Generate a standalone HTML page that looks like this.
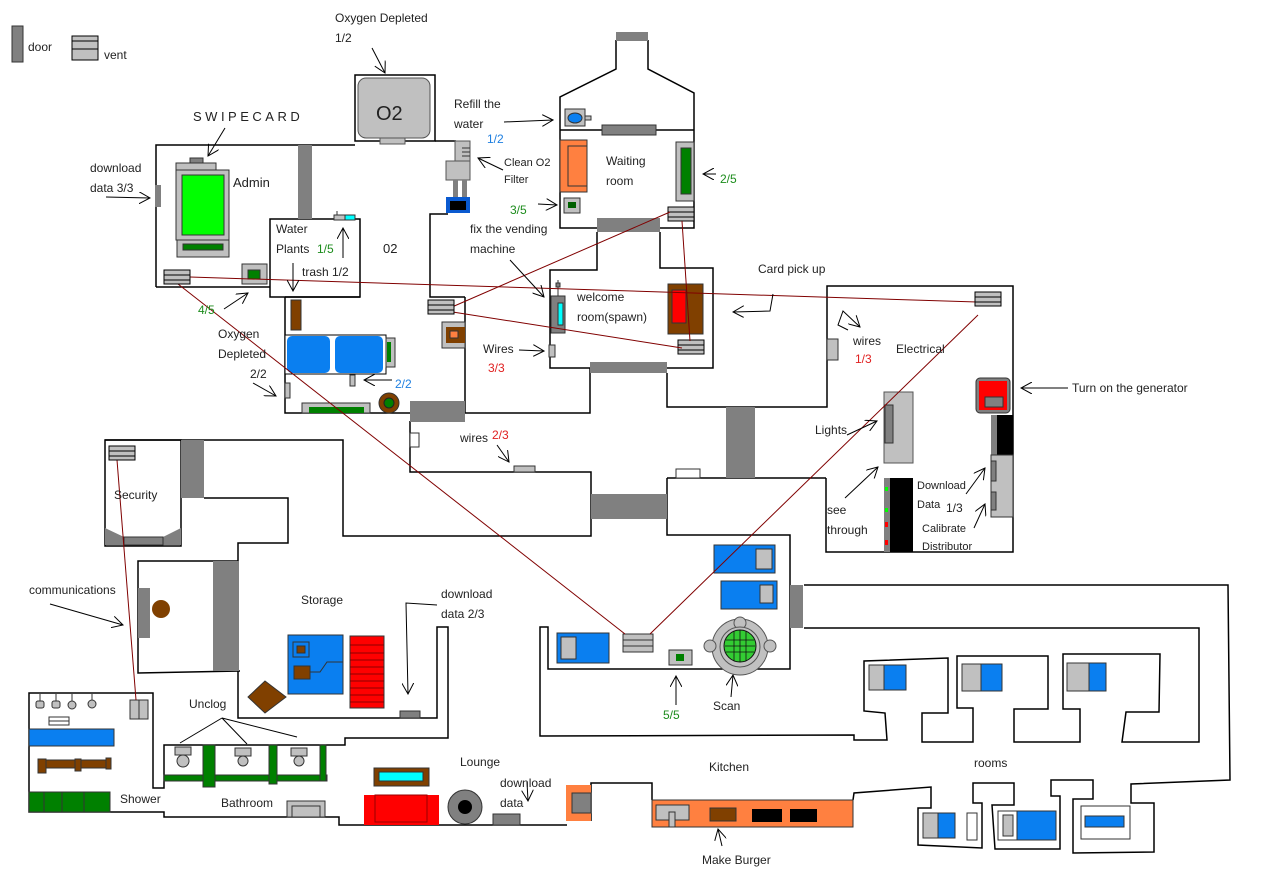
<!DOCTYPE html>
<html><head><meta charset="utf-8"><style>
html,body{margin:0;padding:0;background:#fff;}
svg{display:block;}
text{font-family:"Liberation Sans",sans-serif;font-size:12px;fill:#222;}
.g{fill:#1c8c1c}.r{fill:#e02020}.b{fill:#1e7fe0}
</style></head><body>
<svg width="1280" height="874" viewBox="0 0 1280 874" xmlns="http://www.w3.org/2000/svg">
<defs>
<marker id="a" markerWidth="12" markerHeight="12" refX="11" refY="6" orient="auto" markerUnits="userSpaceOnUse">
<path d="M0,0 L11,6 L0,12" fill="none" stroke="#000" stroke-width="1"/></marker>
<g id="vent"><rect x="0" y="0" width="26" height="14" fill="#c0c0c0" stroke="#000"/><line x1="0" y1="5" x2="26" y2="5" stroke="#000"/><line x1="0" y1="10" x2="26" y2="10" stroke="#000"/></g>
</defs>
<rect width="1280" height="874" fill="#fff"/>

<!-- legend -->
<rect x="12" y="26" width="11" height="36" fill="#808080" stroke="#333"/>
<text x="28" y="51">door</text>
<rect x="72" y="36" width="26" height="24" fill="#c0c0c0" stroke="#000"/>
<line x1="72" y1="41" x2="98" y2="41" stroke="#000"/><line x1="72" y1="49" x2="98" y2="49" stroke="#000"/>
<text x="104" y="59">vent</text>

<g fill="none" stroke="#000" stroke-width="1.5">
<!-- admin + top -->
<polyline points="156,287 156,145 355,145"/>
<polyline points="156,287 270,287"/>
<rect x="270" y="219" width="90" height="78"/>
<rect x="355" y="75" width="80" height="66"/>
<polyline points="435,141 456,141"/>
<polyline points="448,214 430,214 430,297 465,297"/>
<!-- oxygen room -->
<polyline points="285,297 285,413 410,413"/>
<polyline points="285,297 360,297"/>
<polyline points="465,297 465,413 590,413 590,368"/>
<!-- wires corridor -->
<polyline points="410,421 410,472 591,472 591,536 343,536 343,440 105,440"/>
<!-- waiting room -->
<polyline points="616,40 616,69 560,97 560,228 694,228 694,93 648,69 648,40"/>
<line x1="560" y1="130" x2="694" y2="130"/>
<polyline points="597,232 597,270 550,270 550,368 713,368 713,268 660,268 660,232"/>
<!-- middle -->
<polyline points="667,373 667,407 827,407 827,286 1013,286 1013,552 826,552 826,478"/>
<polyline points="667,478 826,478"/>
<polyline points="667,478 667,535 790,535 790,669 548,669 548,627 540,627 540,736 854,735 854,740 887,740 885,713 864,711 864,661 948,658 948,713 922,713 922,742 973,742 973,708 957,708 957,656 1048,656 1048,709 1014,709 1014,742 1080,742 1080,709 1063,709 1063,654 1160,654 1159,712 1126,712 1122,742 1199,742 1199,628 804,628"/>
<polyline points="804,585 1228,585 1230,780 1131,784 1131,803 1154,803 1154,852 1073,853 1073,799 1093,799 1093,780 1051,780 1051,796 1060,796 1060,849 995,849 992,805 1014,805 1014,783 973,783 973,803 982,803 982,848 918,845 918,808 931,808 931,787 854,793 853,800"/>
<!-- security -->
<rect x="105" y="440" width="76" height="106"/>
<polyline points="204,498 288,498 288,543 238,543 238,561 138,561 138,673 240,671"/>
<polyline points="238,561 238,718 437,718 437,627 448,627 448,738 345,738 345,745 164,745 164,788 153,788 153,693 29,693 29,812 164,812 164,817 339,817 339,825 528,825 567,825"/>
<polyline points="591,821 591,783 652,783 652,800"/>
</g>

<!-- doors -->
<g fill="#808080">
<rect x="298" y="145" width="14" height="74"/>
<rect x="410" y="401" width="55" height="21"/>
<rect x="590" y="362" width="77" height="11"/>
<rect x="597" y="218" width="63" height="14"/>
<rect x="602" y="125" width="54" height="10" stroke="#333"/>
<rect x="616" y="32" width="32" height="9"/>
<rect x="726" y="407" width="29" height="71"/>
<rect x="591" y="494" width="76" height="25"/>
<rect x="181" y="440" width="23" height="58"/>
<rect x="213" y="561" width="26" height="110"/>
<rect x="790" y="585" width="13" height="43"/>
<rect x="155" y="185" width="6" height="22"/>
<rect x="827" y="339" width="11" height="21" fill="#c0c0c0" stroke="#333"/>
<rect x="138" y="588" width="12" height="50"/>
</g>

<!-- O2 -->
<rect x="358" y="78" width="72" height="60" rx="8" fill="#c0c0c0" stroke="#555"/>
<rect x="380" y="138" width="25" height="6" fill="#c0c0c0" stroke="#555"/>
<text x="376" y="120" style="font-size:20px">O2</text>
<!-- filter -->
<rect x="455" y="141" width="15" height="20" fill="#c0c0c0" stroke="#555"/>
<line x1="462" y1="148" x2="470" y2="148" stroke="#333"/><line x1="462" y1="152" x2="470" y2="152" stroke="#333"/><line x1="462" y1="156" x2="470" y2="156" stroke="#333"/>
<rect x="446" y="161" width="24" height="19" fill="#c0c0c0" stroke="#555"/>
<rect x="453" y="180" width="5" height="17" fill="#808080"/><rect x="462" y="180" width="5" height="17" fill="#808080"/>
<rect x="446" y="197" width="24" height="16" fill="#0a5ad0"/><rect x="450" y="201" width="16" height="9" fill="#000"/>

<!-- waiting items -->
<rect x="565" y="109" width="20" height="17" fill="#c0c0c0" stroke="#333"/>
<ellipse cx="575" cy="118" rx="7" ry="5" fill="#0a7ff0" stroke="#333"/>
<rect x="585" y="116" width="6" height="4" fill="#c0c0c0" stroke="#333"/>
<rect x="560" y="140" width="27" height="52" fill="#ff8040" stroke="#333"/>
<rect x="568" y="146" width="19" height="40" fill="none" stroke="#333"/>
<rect x="564" y="198" width="16" height="15" fill="#c0c0c0" stroke="#333"/><rect x="568" y="202" width="8" height="6" fill="#006000"/>
<rect x="676" y="142" width="18" height="59" fill="#c0c0c0" stroke="#333"/><rect x="681" y="148" width="10" height="46" fill="#008000" stroke="#333"/>
<use href="#vent" x="668" y="207"/>

<!-- admin items -->
<rect x="190" y="158" width="13" height="6" fill="#808080" stroke="#333"/>
<rect x="176" y="163" width="40" height="8" fill="#c0c0c0" stroke="#333"/>
<rect x="176" y="170" width="53" height="70" fill="#c0c0c0" stroke="#333"/>
<rect x="182" y="175" width="42" height="60" fill="#00ff00" stroke="#333"/>
<rect x="177" y="240" width="52" height="17" fill="#c0c0c0" stroke="#333"/><rect x="183" y="244" width="40" height="6" fill="#008000" stroke="#333"/>
<rect x="242" y="264" width="25" height="20" fill="#c0c0c0" stroke="#333"/><rect x="248" y="270" width="12" height="9" fill="#008000" stroke="#333"/>
<use href="#vent" x="164" y="270"/>
<rect x="334" y="215" width="12" height="5" fill="#c0c0c0" stroke="#333"/><rect x="345" y="215" width="10" height="5" fill="#00ffff" stroke="#333"/>
<line x1="337" y1="211" x2="337" y2="215" stroke="#333"/>

<!-- oxygen room items -->
<rect x="291" y="300" width="10" height="30" fill="#804000" stroke="#333"/>
<rect x="285" y="335" width="101" height="39" fill="#fff" stroke="#000"/>
<rect x="287" y="336" width="43" height="37" rx="5" fill="#0a7ff0"/>
<rect x="335" y="336" width="48" height="37" rx="5" fill="#0a7ff0"/>
<rect x="386" y="338" width="9" height="29" fill="#c0c0c0" stroke="#333"/><rect x="387" y="342" width="4" height="20" fill="#008000"/>
<rect x="350" y="375" width="5" height="11" fill="#c0c0c0" stroke="#333"/>
<rect x="285" y="383" width="5" height="15" fill="#c0c0c0" stroke="#333"/>
<rect x="302" y="403" width="68" height="10" fill="#c0c0c0" stroke="#333"/><rect x="309" y="407" width="55" height="6" fill="#008000"/>
<circle cx="389" cy="403" r="10" fill="#804000" stroke="#333"/><circle cx="389" cy="403" r="5" fill="#008000" stroke="#222"/>

<!-- near vending -->
<use href="#vent" x="428" y="300"/>
<rect x="442" y="322" width="23" height="26" fill="#c0c0c0" stroke="#333"/><rect x="446" y="327" width="19" height="16" fill="#804000"/><rect x="450" y="331" width="8" height="7" fill="#ff8040" stroke="#333"/>

<!-- welcome items -->
<rect x="551" y="296" width="14" height="37" fill="#808080" stroke="#333"/><rect x="558" y="303" width="5" height="22" fill="#00ffff" stroke="#333"/>
<line x1="558" y1="280" x2="558" y2="296" stroke="#333"/><rect x="556" y="283" width="4" height="4" fill="#808080" stroke="#333"/>
<rect x="668" y="284" width="35" height="50" fill="#804000" stroke="#333"/><rect x="672" y="290" width="14" height="33" fill="#ff0000" stroke="#333"/>
<use href="#vent" x="678" y="340"/>
<rect x="549" y="345" width="6" height="12" fill="#c0c0c0" stroke="#333"/>
<rect x="410" y="433" width="9" height="14" fill="#fff" stroke="#333"/>
<rect x="514" y="466" width="21" height="6" fill="#c0c0c0" stroke="#333"/>
<rect x="676" y="469" width="24" height="9" fill="#fff" stroke="#333"/>

<!-- electrical -->
<use href="#vent" x="975" y="292"/>
<rect x="976" y="378" width="34" height="35" rx="4" fill="#808080" stroke="#333"/><rect x="979" y="381" width="28" height="29" fill="#ff0000"/><rect x="985" y="397" width="18" height="10" fill="#808080" stroke="#333"/>
<rect x="884" y="392" width="29" height="71" fill="#c0c0c0" stroke="#555"/><rect x="885" y="405" width="8" height="38" fill="#808080" stroke="#333"/>
<rect x="884" y="478" width="29" height="74" fill="#000"/><rect x="884" y="478" width="6" height="74" fill="#808080"/>
<rect x="885" y="487" width="3" height="4" fill="#0f0"/><rect x="885" y="508" width="3" height="4" fill="#0f0"/><rect x="885" y="522" width="3" height="5" fill="#f00"/><rect x="885" y="540" width="3" height="5" fill="#f00"/>
<rect x="991" y="415" width="22" height="40" fill="#000"/><rect x="991" y="415" width="6" height="40" fill="#808080"/>
<rect x="991" y="455" width="22" height="62" fill="#c0c0c0" stroke="#333"/><rect x="991" y="461" width="5" height="20" fill="#808080" stroke="#333"/><rect x="991" y="492" width="5" height="18" fill="#808080" stroke="#333"/>

<!-- medbay -->
<rect x="714" y="545" width="61" height="28" fill="#0a7ff0" stroke="#333"/><rect x="756" y="549" width="16" height="20" fill="#c0c0c0" stroke="#333"/>
<rect x="721" y="581" width="56" height="28" fill="#0a7ff0" stroke="#333"/><rect x="760" y="585" width="13" height="18" fill="#c0c0c0" stroke="#333"/>
<rect x="557" y="633" width="52" height="30" fill="#0a7ff0" stroke="#333"/><rect x="561" y="637" width="15" height="22" fill="#c0c0c0" stroke="#333"/>
<rect x="623" y="634" width="30" height="18" fill="#c0c0c0" stroke="#333"/><line x1="623" y1="640" x2="653" y2="640" stroke="#333"/><line x1="623" y1="646" x2="653" y2="646" stroke="#333"/>
<rect x="669" y="650" width="23" height="15" fill="#c0c0c0" stroke="#333"/><rect x="676" y="654" width="8" height="7" fill="#008000"/>
<circle cx="740" cy="647" r="28" fill="#c0c0c0" stroke="#555"/>
<circle cx="740" cy="623" r="6" fill="#c0c0c0" stroke="#555"/><circle cx="710" cy="646" r="6" fill="#c0c0c0" stroke="#555"/><circle cx="770" cy="646" r="6" fill="#c0c0c0" stroke="#555"/>
<circle cx="740" cy="647" r="20" fill="#c0c0c0" stroke="#555"/>
<circle cx="740" cy="646" r="16" fill="#33cc33" stroke="#111"/>
<g stroke="#111" stroke-width="0.8"><line x1="726" y1="640" x2="754" y2="640"/><line x1="725" y1="646" x2="755" y2="646"/><line x1="726" y1="652" x2="754" y2="652"/><line x1="734" y1="631" x2="734" y2="661"/><line x1="740" y1="630" x2="740" y2="662"/><line x1="746" y1="631" x2="746" y2="661"/></g>

<!-- rooms beds -->
<g stroke="#333">
<rect x="869" y="665" width="15" height="25" fill="#c0c0c0"/><rect x="884" y="665" width="22" height="25" fill="#0a7ff0"/>
<rect x="962" y="664" width="19" height="27" fill="#c0c0c0"/><rect x="981" y="664" width="21" height="27" fill="#0a7ff0"/>
<rect x="1067" y="663" width="22" height="28" fill="#c0c0c0"/><rect x="1089" y="663" width="17" height="28" fill="#0a7ff0"/>
<rect x="923" y="813" width="15" height="25" fill="#c0c0c0"/><rect x="938" y="813" width="17" height="25" fill="#0a7ff0"/>
<rect x="967" y="813" width="10" height="27" fill="#fff"/>
<rect x="998" y="811" width="58" height="29" fill="#fff"/><rect x="1003" y="815" width="10" height="21" fill="#c0c0c0"/><rect x="1017" y="811" width="39" height="29" fill="#0a7ff0"/>
<rect x="1081" y="806" width="49" height="33" fill="#fff"/><rect x="1085" y="816" width="39" height="11" fill="#0a7ff0"/>
</g>

<!-- security / storage items -->
<use href="#vent" x="109" y="446"/>
<polygon points="105,528 124,537 124,545 105,545" fill="#808080"/><polygon points="181,528 163,537 163,545 181,545" fill="#808080"/><rect x="124" y="537" width="39" height="8" fill="#808080" stroke="#333"/>
<circle cx="161" cy="609" r="9" fill="#804000"/>
<rect x="288" y="635" width="55" height="59" fill="#0a7ff0" stroke="#333"/>
<rect x="293" y="642" width="16" height="15" fill="#0a7ff0" stroke="#333"/><rect x="297" y="646" width="8" height="7" fill="#804000" stroke="#333"/>
<rect x="294" y="666" width="16" height="13" fill="#804000" stroke="#333"/>
<polyline points="310,672 320,672 327,662 343,662" fill="none" stroke="#333"/>
<rect x="350" y="636" width="34" height="72" fill="#ff0000" stroke="#333"/>
<g stroke="#600" stroke-width="0.8"><line x1="350" y1="645" x2="384" y2="645"/><line x1="350" y1="653" x2="384" y2="653"/><line x1="350" y1="660" x2="384" y2="660"/><line x1="350" y1="667" x2="384" y2="667"/><line x1="350" y1="674" x2="384" y2="674"/><line x1="350" y1="681" x2="384" y2="681"/><line x1="350" y1="688" x2="384" y2="688"/><line x1="350" y1="695" x2="384" y2="695"/><line x1="350" y1="702" x2="384" y2="702"/></g>
<polygon points="265,681 286,697 265,713 248,697" fill="#804000" stroke="#333"/>
<rect x="400" y="711" width="20" height="7" fill="#808080" stroke="#333"/>

<!-- shower/bathroom -->
<g fill="#c0c0c0" stroke="#333"><rect x="36" y="701" width="8" height="7" rx="2"/><rect x="52" y="701" width="8" height="7" rx="2"/><circle cx="72" cy="705" r="4"/><circle cx="92" cy="704" r="4"/>
<rect x="130" y="700" width="18" height="19"/><line x1="139" y1="700" x2="139" y2="719"/></g>
<g stroke="#333"><line x1="40" y1="694" x2="40" y2="701"/><line x1="56" y1="694" x2="56" y2="701"/><line x1="72" y1="694" x2="72" y2="701"/><line x1="92" y1="694" x2="92" y2="700"/></g>
<rect x="49" y="717" width="20" height="8" fill="#fff" stroke="#333"/><line x1="49" y1="721" x2="69" y2="721" stroke="#333"/>
<rect x="29" y="729" width="85" height="17" fill="#0a7ff0" stroke="#333"/>
<rect x="38" y="760" width="72" height="8" fill="#804000" stroke="#333"/><rect x="38" y="759" width="8" height="14" fill="#804000" stroke="#333"/><rect x="75" y="759" width="6" height="12" fill="#804000" stroke="#333"/><rect x="106" y="758" width="5" height="11" fill="#804000" stroke="#333"/>
<g fill="#008000" stroke="#333"><rect x="29" y="792" width="15" height="20"/><rect x="44" y="792" width="18" height="20"/><rect x="62" y="792" width="22" height="20"/><rect x="84" y="792" width="26" height="20"/></g>
<g fill="#008000" stroke="#333"><rect x="164" y="775" width="163" height="6"/><rect x="203" y="745" width="12" height="42"/><rect x="269" y="745" width="8" height="39"/><rect x="320" y="745" width="6" height="36"/></g>
<g fill="#c0c0c0" stroke="#333"><rect x="175" y="747" width="16" height="8"/><circle cx="183" cy="761" r="6"/><rect x="235" y="748" width="16" height="8"/><circle cx="243" cy="761" r="5"/><rect x="291" y="748" width="16" height="8"/><circle cx="299" cy="761" r="5"/>
<rect x="287" y="801" width="38" height="16"/><rect x="292" y="806" width="28" height="11"/></g>
<!-- lounge/kitchen -->
<rect x="374" y="768" width="55" height="18" fill="#804000" stroke="#333"/><rect x="379" y="772" width="44" height="9" fill="#00ffff" stroke="#333"/>
<rect x="364" y="795" width="75" height="30" fill="#ff0000"/><rect x="375" y="795" width="52" height="27" fill="none" stroke="#900"/>
<circle cx="465" cy="807" r="17" fill="#808080" stroke="#333"/><circle cx="465" cy="807" r="7" fill="#000"/>
<rect x="493" y="814" width="27" height="11" fill="#808080" stroke="#333"/>
<rect x="566" y="785" width="25" height="36" fill="#ff8040"/><rect x="572" y="793" width="19" height="20" fill="#808080" stroke="#333"/>
<rect x="652" y="800" width="201" height="27" fill="#ff8040" stroke="#333"/>
<rect x="656" y="805" width="33" height="15" fill="#c0c0c0" stroke="#333"/><rect x="669" y="812" width="6" height="15" fill="#c0c0c0" stroke="#333"/>
<rect x="710" y="808" width="26" height="13" fill="#804000" stroke="#333"/>
<rect x="752" y="809" width="30" height="13" fill="#000"/><rect x="790" y="809" width="27" height="13" fill="#000"/>

<!-- vent lines -->
<g stroke="#800000" stroke-width="1" fill="none">
<line x1="190" y1="277" x2="977" y2="302"/>
<line x1="178" y1="284" x2="625" y2="634"/>
<line x1="452" y1="307" x2="670" y2="212"/>
<line x1="440" y1="310" x2="682" y2="348"/>
<line x1="682" y1="221" x2="690" y2="341"/>
<line x1="978" y1="315" x2="650" y2="634"/>
<line x1="117" y1="460" x2="136" y2="700"/>
</g>
<use href="#vent" x="164" y="270"/>
<use href="#vent" x="428" y="300"/>
<use href="#vent" x="975" y="292"/>
<use href="#vent" x="109" y="446"/>

<!-- arrows -->
<g stroke="#000" stroke-width="1" fill="none" marker-end="url(#a)">
<line x1="372" y1="48" x2="385" y2="73"/>
<line x1="225" y1="128" x2="208" y2="156"/>
<line x1="106" y1="197" x2="150" y2="198"/>
<line x1="504" y1="122" x2="553" y2="120"/>
<line x1="503" y1="170" x2="478" y2="158"/>
<line x1="538" y1="204" x2="557" y2="205"/>
<line x1="716" y1="174" x2="703" y2="174"/>
<line x1="343" y1="258" x2="343" y2="228"/>
<line x1="293" y1="263" x2="293" y2="291"/>
<line x1="224" y1="309" x2="248" y2="293"/>
<line x1="253" y1="383" x2="276" y2="396"/>
<line x1="392" y1="380" x2="364" y2="380"/>
<line x1="510" y1="260" x2="544" y2="297"/>
<line x1="519" y1="350" x2="544" y2="351"/>
<polyline points="773,294 770,311 733,312"/>
<polyline points="848,330 838,325 843,311 860,327"/>
<line x1="1068" y1="388" x2="1021" y2="388"/>
<line x1="847" y1="435" x2="877" y2="421"/>
<line x1="845" y1="498" x2="878" y2="467"/>
<line x1="966" y1="494" x2="985" y2="468"/>
<line x1="974" y1="528" x2="985" y2="504"/>
<line x1="497" y1="445" x2="509" y2="462"/>
<line x1="50" y1="604" x2="123" y2="625"/>
<polyline points="437,605 406,603 408,694"/>
<line x1="527" y1="782" x2="528" y2="801"/>
<line x1="676" y1="705" x2="676" y2="676"/>
<line x1="731" y1="697" x2="733" y2="675"/>
<line x1="722" y1="846" x2="718" y2="829"/>
</g>
<g stroke="#000" stroke-width="1" fill="none">
<line x1="222" y1="718" x2="180" y2="743"/><line x1="222" y1="718" x2="247" y2="744"/><line x1="222" y1="718" x2="297" y2="737"/>
</g>

<!-- labels -->
<text x="335" y="22">Oxygen Depleted</text><text x="335" y="42">1/2</text>
<text x="193" y="121" style="font-size:13px;letter-spacing:3.5px">SWIPECARD</text>
<text x="90" y="172">download</text><text x="90" y="192">data 3/3</text>
<text x="233" y="187" style="font-size:13px">Admin</text>
<text x="454" y="108">Refill the</text><text x="454" y="128">water</text><text x="487" y="143" class="b">1/2</text>
<text x="504" y="166" style="font-size:11px">Clean O2</text><text x="504" y="183" style="font-size:11px">Filter</text>
<text x="510" y="214" class="g">3/5</text>
<text x="606" y="165">Waiting</text><text x="606" y="185">room</text>
<text x="720" y="183" class="g">2/5</text>
<text x="276" y="233">Water</text><text x="276" y="253">Plants</text><text x="317" y="253" class="g">1/5</text>
<text x="302" y="276">trash 1/2</text>
<text x="383" y="253" style="font-size:13px">02</text>
<text x="470" y="233">fix the vending</text><text x="470" y="253">machine</text>
<text x="577" y="301">welcome</text><text x="577" y="321">room(spawn)</text>
<text x="198" y="314" class="g">4/5</text>
<text x="218" y="338">Oxygen</text><text x="218" y="358">Depleted</text><text x="250" y="378">2/2</text>
<text x="395" y="388" class="b">2/2</text>
<text x="483" y="353">Wires</text><text x="488" y="372" class="r">3/3</text>
<text x="758" y="273">Card pick up</text>
<text x="853" y="345">wires</text><text x="855" y="363" class="r">1/3</text>
<text x="896" y="353">Electrical</text>
<text x="1072" y="392">Turn on the generator</text>
<text x="815" y="434">Lights</text>
<text x="460" y="442">wires</text><text x="492" y="439" class="r">2/3</text>
<text x="827" y="514">see</text><text x="827" y="534">through</text>
<text x="917" y="489" style="font-size:11px">Download</text><text x="917" y="508" style="font-size:11px">Data</text><text x="946" y="512">1/3</text>
<text x="922" y="532" style="font-size:11px">Calibrate</text><text x="922" y="550" style="font-size:11px">Distributor</text>
<text x="114" y="499">Security</text>
<text x="29" y="594">communications</text>
<text x="301" y="604">Storage</text>
<text x="441" y="598">download</text><text x="441" y="618">data  2/3</text>
<text x="189" y="708">Unclog</text>
<text x="120" y="803">Shower</text><text x="221" y="807">Bathroom</text>
<text x="460" y="766">Lounge</text>
<text x="500" y="787">download</text><text x="500" y="807">data</text>
<text x="663" y="719" class="g">5/5</text>
<text x="713" y="710">Scan</text>
<text x="709" y="771">Kitchen</text>
<text x="974" y="767">rooms</text>
<text x="702" y="864">Make Burger</text>
</svg>
</body></html>
